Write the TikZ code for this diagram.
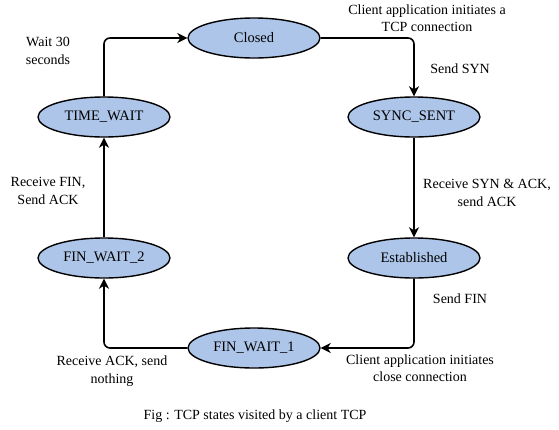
\documentclass[tikz,border=0pt]{standalone}
\usepackage{fontspec}
\setmainfont{Liberation Serif}
\usetikzlibrary{shapes.geometric,arrows.meta}
\definecolor{statefill}{RGB}{172,197,232}
\tikzstyle{state}=[draw=black, shape=ellipse, line width=1.4pt, fill=statefill, minimum width=132pt, minimum height=40pt, inner sep=0pt, font=\fontsize{14.5}{17}\selectfont]
\tikzstyle{edge}=[line width=1.6pt, rounded corners=6pt, -{Stealth[length=10pt,width=10pt,inset=3pt]}]
\tikzstyle{lbl}=[align=center, inner sep=0pt, font=\fontsize{14}{17.5}\selectfont]

\begin{document}
\begin{tikzpicture}[x=1pt, y=-1pt]
            \useasboundingbox (0,0) rectangle (559,429);
            \node[state] (closed) at (254,38) {Closed};
            \node[state] (sent) at (414,117) {SYNC\_SENT};
            \node[state] (estab) at (414,258) {Established};
            \node[state] (fw1) at (254,348) {FIN\_WAIT\_1};
            \node[state] (fw2) at (104,258) {FIN\_WAIT\_2};
            \node[state] (tw) at (104,117) {TIME\_WAIT};
            \draw[edge] (tw) |- (closed);
            \draw[edge] (closed) -| (sent);
            \draw[edge] (sent) -- (estab);
            \draw[edge] (estab) |- (fw1);
            \draw[edge] (fw1) -| (fw2);
            \draw[edge] (fw2) -- (tw);
            \node[lbl] (wait) at (48,51) {Wait 30\\seconds};
            \node[lbl] (conn) at (427,18) {Client application initiates a\\TCP connection};
            \node[lbl] (syn) at (460,69) {Send SYN};
            \node[lbl] (synack) at (487,193) {Receive SYN \& ACK,\\send ACK};
            \node[lbl] (fin) at (460,299) {Send FIN};
            \node[lbl] (close) at (420,368) {Client application initiates\\close connection};
            \node[lbl] (recfin) at (48,191) {Receive FIN,\\Send ACK};
            \node[lbl] (recack) at (112,371) {Receive ACK, send\\nothing};
            \node[lbl] (caption) at (255,416) {Fig : TCP states visited by a client TCP};
        \end{tikzpicture}
\end{document}
